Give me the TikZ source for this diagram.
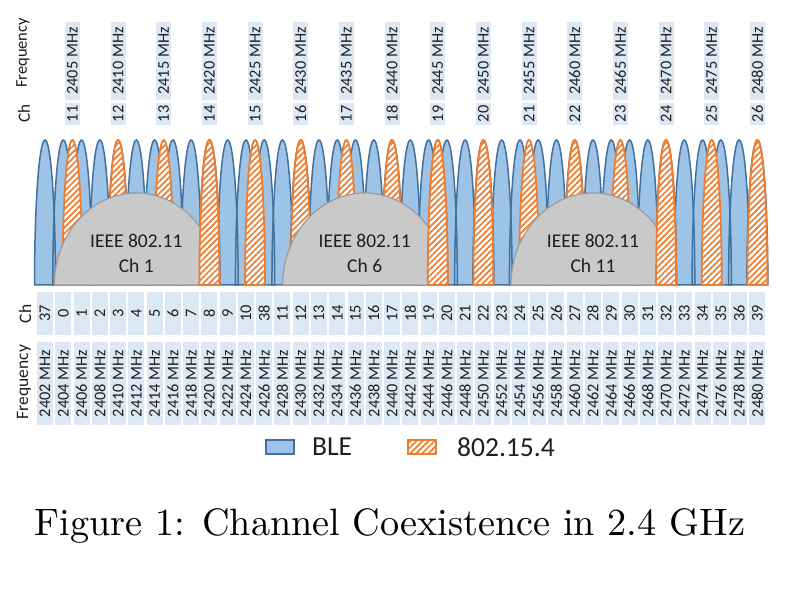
\documentclass[tikz,border=0pt]{standalone}
\usepackage{graphicx}
\usepackage{fontspec}
\newfontfamily\chartfont{Carlito}
\usetikzlibrary{patterns.meta}

\definecolor{blefill}{RGB}{157,195,230}
\definecolor{bleline}{RGB}{65,113,156}
\definecolor{zborange}{RGB}{237,125,49}
\definecolor{wifigray}{RGB}{201,201,201}
\definecolor{wifiline}{RGB}{155,155,155}
\definecolor{labelbg}{RGB}{221,232,245}
\definecolor{txt}{RGB}{30,30,30}

\tikzset{
  blelobe/.style={fill=blefill},
  bleedge/.style={draw=bleline, line width=1.5pt},
  zblobe/.style={draw=zborange, line width=1.8pt, preaction={fill=white},
    pattern={Lines[angle=45,distance=4.3pt,line width=1.7pt]}, pattern color=zborange},
  wifidome/.style={fill=wifigray, draw=wifiline, line width=1.2pt},
  labelbox/.style={fill=labelbg},
  boxtext/.style={rotate=90, text=txt, inner sep=0pt, font=\chartfont\fontsize{16.3}{16}\selectfont},
  sidetext/.style={rotate=90, text=txt, inner sep=0pt, font=\chartfont\fontsize{#1}{#1}\selectfont},
  legendtext/.style={text=txt, inner sep=0pt, anchor=west, font=\chartfont\fontsize{27.5}{28}\selectfont},
}

\begin{document}
\begin{tikzpicture}[x=1pt, y=1pt]
  \useasboundingbox (0,0) rectangle (792,596);

  % BLE channel columns
  \foreach \c [count=\i from 0] in {37,0,1,2,3,4,5,6,7,8,9,10,38,11,12,13,14,15,16,17,18,19,20,21,22,23,24,25,26,27,28,29,30,31,32,33,34,35,36,39} {
    \pgfmathsetmacro\xc{45+18.266*\i}
    \pgfmathtruncatemacro\fr{2402+2*\i}
    \fill[labelbox] (\xc-8,261) rectangle (\xc+8,304);
    \node[boxtext] (blech\i) at (\xc,282.5) {\c};
    \fill[labelbox] (\xc-8,171) rectangle (\xc+8,254);
    \node[boxtext] (blefreq\i) at (\xc,212.5) {\fr{} MHz};
  }

  % 802.15.4 channel columns
  \foreach \k in {0,...,15} {
    \pgfmathsetmacro\xc{72.4+45.665*\k}
    \pgfmathtruncatemacro\ch{11+\k}
    \pgfmathtruncatemacro\fr{2405+5*\k}
    \fill[labelbox] (\xc-7.5,496) rectangle (\xc+7.5,574);
    \node[boxtext] (zbfreq\k) at (\xc,535) {\fr{} MHz};
    \fill[labelbox] (\xc-7.5,471) rectangle (\xc+7.5,493);
    \node[boxtext] (zbch\k) at (\xc,482) {\ch};
  }

  \node[sidetext=17] (topch) at (24,482) {Ch};
  \node[sidetext=16.5] (topfreq) at (23,543) {Frequency};
  \node[sidetext=17.5] (botch) at (25,282) {Ch};
  \node[sidetext=17.5] (botfreq) at (24,214) {Frequency};

  % lobes
  \foreach \i in {0,...,39}
    \fill[blelobe] ({45+18.266*\i-10.5},311) arc (180:0:10.5 and 145) -- cycle;
  \foreach \i in {0,...,39}
    \draw[bleedge] ({45+18.266*\i-10.5},311) arc (180:0:10.5 and 145) -- cycle;
  \foreach \k in {0,...,15}
    \draw[zblobe] ({72.4+45.665*\k-10},311) arc (180:0:10 and 145) -- cycle;

  % wifi channels
  \foreach \xc/\n in {136.3/1, 364.7/6, 593/11} {
    \draw[wifidome] (\xc-82,311) arc (180:0:82 and 92) -- cycle;
    \node[text=txt, align=center, font=\chartfont\fontsize{19.5}{25}\selectfont] (wifi\n) at (\xc,343) {IEEE 802.11\\Ch \n};
  }
  \foreach \k in {3,8,13}
    \draw[zblobe] ({72.4+45.665*\k-10},311) arc (180:0:10 and 145) -- cycle;

  % legend
  \draw[bleedge, fill=blefill] (266,142) rectangle (294,156);
  \node[legendtext] (bleleg) at (312,149) {BLE};
  \draw[zblobe, line width=1.5pt] (408,142) rectangle (436,156);
  \node[legendtext] (zbleg) at (457,149) {802.15.4};

  \node (caption) at (390,70) {\resizebox{710pt}{!}{Figure 1: Channel Coexistence in 2.4 GHz}};
\end{tikzpicture}
\end{document}
